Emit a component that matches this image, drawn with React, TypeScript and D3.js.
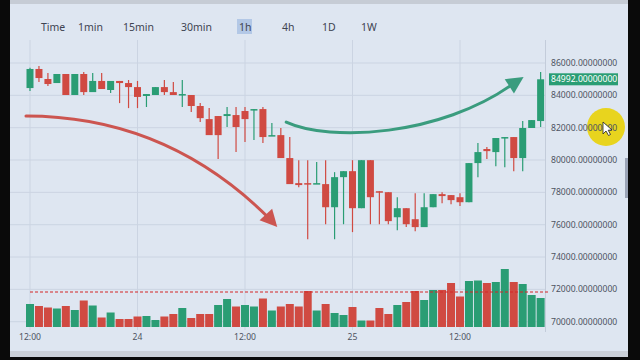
import { useEffect, useRef } from 'react'
import * as d3 from 'd3'

// hourly candles starting 23 Mar 12:00
const startTime = Date.UTC(2025, 2, 23, 12)

const opens = [
  84450, 85630, 85010, 84760, 85320, 84020, 85320, 84200, 84890, 84330,
  84890, 84760, 84510, 83960, 84020, 84510, 84200, 84020, 84020, 83340,
  82530, 82720, 82720, 82780, 83030, 83090, 83150, 81480, 81540, 80120,
  78570, 78570, 78510, 78510, 77080, 78940, 79310, 77020, 79990, 78070,
  78010, 76460, 77020, 76340, 75850, 77080, 77890, 77830, 77700, 77390,
  79810, 80680, 80490, 81360, 81420, 80120, 81980, 82410
]
const highs = [
  85700, 85810, 85380, 85320, 85320, 85320, 85440, 85380, 85380, 84890,
  84890, 84950, 84890, 84080, 84510, 84950, 84820, 84950, 84020, 83520,
  83210, 82720, 83280, 83280, 83280, 83150, 83280, 82290, 81980, 81420,
  79990, 79990, 79870, 79990, 79250, 79310, 79990, 79990, 79990, 78070,
  78010, 77700, 77020, 77950, 77950, 77890, 78010, 77830, 77950, 79810,
  81050, 80800, 81360, 81420, 81420, 82410, 82470, 85440
]
const lows = [
  84270, 84820, 84580, 84760, 84020, 84020, 84020, 84200, 84390, 84140,
  83520, 83210, 83210, 83280, 84020, 84020, 84020, 83280, 82970, 82350,
  81540, 80060, 82040, 80490, 81120, 81230, 81050, 81480, 80120, 78510,
  78320, 75100, 78510, 76030, 75100, 76030, 75540, 77020, 76030, 76030,
  76030, 75660, 75850, 75600, 75850, 77080, 77330, 77270, 77150, 77390,
  78940, 80060, 79620, 79560, 79310, 79310, 81980, 82040
]
const closes = [
  85630, 85070, 84700, 85320, 84020, 85320, 84200, 84890, 84390, 84890,
  84760, 84510, 83900, 84080, 84510, 84200, 84020, 84080, 83340, 82590,
  81540, 81540, 82840, 82040, 82530, 83150, 81420, 81540, 80120, 78510,
  78450, 78510, 78570, 77080, 78940, 79310, 77020, 79990, 77700, 78010,
  76220, 77020, 76030, 75850, 77080, 77890, 77770, 77520, 77390, 79810,
  80490, 80550, 81360, 81420, 80120, 81980, 82470, 84992
]
const volumes = [
  920, 840, 780, 740, 840, 680, 1060, 860, 380, 580,
  320, 320, 420, 440, 280, 420, 520, 760, 360, 520,
  520, 880, 1120, 820, 880, 820, 1140, 660, 820, 920,
  820, 1440, 660, 920, 560, 480, 800, 260, 260, 760,
  520, 880, 1000, 1440, 1080, 1480, 1480, 1760, 1220, 1840,
  1860, 1760, 1800, 2320, 1800, 1720, 1280, 1160
]
// volume bar colour as shown (1 = green)
const volumeUp = [
  1, 0, 0, 1, 0, 1, 0, 1, 0, 1,
  0, 0, 0, 1, 1, 0, 0, 1, 0, 0,
  0, 1, 1, 0, 1, 1, 0, 1, 0, 0,
  0, 0, 1, 0, 1, 1, 0, 1, 0, 0,
  0, 1, 0, 0, 1, 1, 0, 0, 0, 1,
  1, 0, 1, 1, 0, 1, 1, 1
]

const priceTicks = [70000, 72000, 74000, 76000, 78000, 80000, 82000, 84000, 86000]
const lastPrice = 84992
const volumeMark = 1400

const intervals = ['Time', '1min', '15min', '30min', '1h', '4h', '1D', '1W']
const intervalX = [41, 78, 123, 181, 239, 282, 322, 361]
const activeInterval = '1h'

// hand-drawn arrows, as [hours from start, price]
const fallArrow = [[-0.45, 82720], [15.3, 82720], [26.8, 76340], [27.6, 75850]]
const riseArrow = [[28.6, 82350], [33.5, 81100], [45.8, 81480], [53.9, 84700], [55.1, 85130]]

const UP = '#2a9d74'
const DOWN = '#d04a42'
const BG = '#dee6f1'
const GRID = '#cbd4e2'
const FONT = '"Noto Sans", "DejaVu Sans", sans-serif'

export default function App() {
  const svgRef = useRef<SVGSVGElement>(null)

  useEffect(() => {
    if (!svgRef.current) return
    const svg = d3.select(svgRef.current)
    svg.selectAll('*').remove()

    const hour = 3600 * 1000
    const times = opens.map((_, i) => new Date(startTime + i * hour))

    const x = d3.scaleUtc()
      .domain([new Date(startTime), new Date(startTime + 48 * hour)])
      .range([30, 460])
    const y = d3.scaleLinear().domain([70000, 86000]).range([321.7, 63])
    const yVol = d3.scaleLinear().domain([0, 2400]).range([327, 267])
    const px = (p: number[]) => [x(new Date(startTime + p[0] * hour)), y(p[1])]

    // frame
    svg.append('rect').attr('width', 640).attr('height', 360).attr('fill', '#0a0a0a')
    svg.append('rect').attr('x', 10).attr('y', 0).attr('width', 618).attr('height', 357).attr('fill', BG)
    svg.append('rect').attr('x', 10).attr('y', 0).attr('width', 618).attr('height', 4).attr('fill', '#c6ccd5')
    svg.append('rect').attr('x', 10).attr('y', 351).attr('width', 618).attr('height', 6).attr('fill', '#cbd0d8')
    svg.append('rect').attr('x', 625).attr('y', 158).attr('width', 3).attr('height', 40).attr('fill', '#9ba4b6')

    // toolbar
    const tb = svg.append('g').style('font-family', FONT).style('font-size', '10.5px')
    intervals.forEach((label, i) => {
      if (label === activeInterval) {
        tb.append('rect').attr('x', intervalX[i] - 2).attr('y', 19)
          .attr('width', 15).attr('height', 15).attr('fill', '#b3c8e6')
      }
      tb.append('text').attr('x', intervalX[i]).attr('y', 30.5)
        .attr('fill', '#3e4452').text(label)
    })

    // grid
    const g = svg.append('g')
    g.selectAll('.hgrid').data(priceTicks).enter().append('line')
      .attr('x1', 10).attr('x2', 545)
      .attr('y1', d => y(d)).attr('y2', d => y(d))
      .attr('stroke', GRID).attr('stroke-width', 1)
    const timeTicks = x.ticks(d3.utcHour.every(12) as any)
    g.selectAll('.vgrid').data(timeTicks).enter().append('line')
      .attr('x1', d => x(d)).attr('x2', d => x(d))
      .attr('y1', 40).attr('y2', 330)
      .attr('stroke', GRID).attr('stroke-width', 1)
    g.append('line').attr('x1', 545.5).attr('x2', 545.5).attr('y1', 40).attr('y2', 332)
      .attr('stroke', '#c3ccda')

    // volume
    const bw = 8
    g.selectAll('.vol').data(volumes).enter().append('rect')
      .attr('x', (_, i) => x(times[i]) - bw / 2)
      .attr('width', bw)
      .attr('y', d => yVol(d))
      .attr('height', d => yVol(0) - yVol(d))
      .attr('fill', (_, i) => volumeUp[i] ? UP : DOWN)
    g.append('line')
      .attr('x1', 30).attr('x2', 548)
      .attr('y1', yVol(volumeMark)).attr('y2', yVol(volumeMark))
      .attr('stroke', '#d42626').attr('stroke-width', 1).attr('stroke-dasharray', '3,2')

    // candles
    const cw = 7
    const candles = g.selectAll('.candle').data(opens).enter().append('g')
    candles.append('line')
      .attr('x1', (_, i) => x(times[i])).attr('x2', (_, i) => x(times[i]))
      .attr('y1', (_, i) => y(highs[i])).attr('y2', (_, i) => y(lows[i]))
      .attr('stroke', (o, i) => closes[i] >= o ? UP : DOWN).attr('stroke-width', 1.2)
    candles.append('rect')
      .attr('x', (_, i) => x(times[i]) - cw / 2)
      .attr('width', cw)
      .attr('y', (o, i) => y(Math.max(o, closes[i])))
      .attr('height', (o, i) => Math.max(1.5, Math.abs(y(o) - y(closes[i]))))
      .attr('fill', (o, i) => closes[i] >= o ? UP : DOWN)

    // arrows
    const drawArrow = (pts: number[][], color: string) => {
      const p = pts.map(px)
      const tip = p[p.length - 1]
      const end = p[p.length - 2]
      const path = d3.path()
      path.moveTo(p[0][0], p[0][1])
      if (p.length === 4) path.quadraticCurveTo(p[1][0], p[1][1], end[0], end[1])
      else path.bezierCurveTo(p[1][0], p[1][1], p[2][0], p[2][1], end[0], end[1])
      g.append('path').attr('d', path.toString()).attr('fill', 'none')
        .attr('stroke', color).attr('stroke-width', 3).attr('stroke-linecap', 'round')
      const dx = tip[0] - end[0]
      const dy = tip[1] - end[1]
      const len = Math.hypot(dx, dy)
      const ux = dx / len
      const uy = dy / len
      const L = 17
      const W = 8.5
      const bx = tip[0] - ux * L
      const by = tip[1] - uy * L
      g.append('path')
        .attr('d', `M${tip[0]},${tip[1]}L${bx - uy * W},${by + ux * W}L${bx + uy * W},${by - ux * W}Z`)
        .attr('fill', color)
    }
    drawArrow(fallArrow, '#cc5550')
    drawArrow(riseArrow, '#3a9c7e')

    // highlight circle from the cursor
    svg.append('circle').attr('cx', 606).attr('cy', 127).attr('r', 19).attr('fill', '#e8d41e')

    // price axis labels
    const ax = svg.append('g').style('font-family', FONT).style('font-size', '8.6px')
    ax.selectAll('.plabel').data(priceTicks).enter().append('text')
      .attr('x', 551).attr('y', d => y(d) + 3)
      .attr('fill', '#4d5361')
      .text(d => d3.format('.8f')(d))
    ax.append('rect').attr('x', 549).attr('y', y(lastPrice) - 6)
      .attr('width', 69).attr('height', 12).attr('fill', UP)
    ax.append('text').attr('x', 551).attr('y', y(lastPrice) + 3)
      .attr('fill', '#ffffff').text(d3.format('.8f')(lastPrice))

    // cursor
    svg.append('path')
      .attr('d', 'M0,0L0,12L3,9L5.5,13.5L7.5,12.5L5.2,8.2L9,8Z')
      .attr('transform', 'translate(603,122)')
      .attr('fill', '#ffffff').attr('stroke', '#222').attr('stroke-width', 0.8)

    // time axis labels
    const fmt = (d: Date) => d.getUTCHours() === 0 ? d3.utcFormat('%-d')(d) : d3.utcFormat('%H:%M')(d)
    svg.append('g').style('font-family', FONT).style('font-size', '8.6px')
      .selectAll('text').data(timeTicks).enter().append('text')
      .attr('x', d => x(d)).attr('y', 340)
      .attr('text-anchor', 'middle').attr('fill', '#4d5361')
      .text(d => fmt(d))
  }, [])

  return (
    <svg
      ref={svgRef}
      width={640}
      height={360}
      style={{ position: 'absolute', left: 0, top: 0, display: 'block' }}
    />
  )
}
